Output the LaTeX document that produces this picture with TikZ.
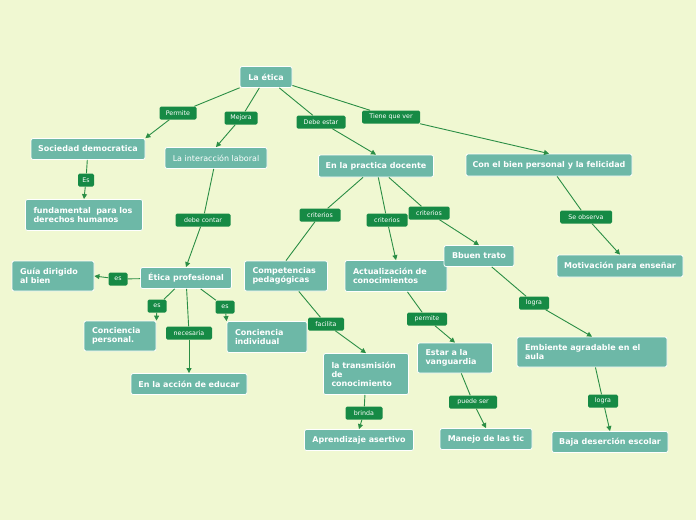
\documentclass[tikz,border=0pt]{standalone}
\usepackage{fontspec}
\setmainfont{DejaVu Sans}
\usetikzlibrary{arrows.meta}
\definecolor{bg}{HTML}{F0F8D2}
\definecolor{nodefill}{HTML}{6DB8A7}
\definecolor{lab}{HTML}{168A45}
\definecolor{ln}{HTML}{2B8E45}
\begin{document}
\begin{tikzpicture}[x=1pt,y=-1pt,
 box/.style={draw=white,line width=0.8pt,fill=nodefill,rounded corners=2pt,text=white,font=\fontsize{8}{9}\selectfont\bfseries,inner sep=0pt},
 mbox/.style={box,align=left},
 lbl/.style={fill=lab,rounded corners=1.5pt,text=white,font=\fontsize{6.3}{7}\selectfont,inner sep=0pt,minimum height=13},
 con/.style={draw=ln,line width=0.9pt},
 arr/.style={con,-{Triangle[length=5pt,width=5pt]}}]
\fill[bg] (0,0) rectangle (696,520);
\useasboundingbox (0,0) rectangle (696,520);
% main nodes
\node[box,minimum width=52,minimum height=21] (etica) at (266,77) {La ética};
\node[box,minimum width=114,minimum height=21] (soc) at (88,149) {Sociedad democratica};
\node[box,minimum width=102,minimum height=21,font=\fontsize{8}{9}\selectfont] (inter) at (216,158) {La interacción laboral};
\node[box,minimum width=115,minimum height=22] (prac) at (376,166) {En la practica docente};
\node[box,minimum width=166,minimum height=22] (bien) at (549,165) {Con el bien personal y la felicidad};
\node[mbox,minimum width=117,minimum height=31,text width=101] (fund) at (84,215) {fundamental\ \ para los\\derechos humanos};
\node[mbox,minimum width=82,minimum height=30,text width=66] (guia) at (53,276) {Guía dirigido\\al bien};
\node[box,minimum width=91,minimum height=21] (prof) at (186,278) {Ética profesional};
\node[mbox,minimum width=83,minimum height=30,text width=67] (comp) at (286,276) {Competencias\\pedagógicas};
\node[mbox,minimum width=102,minimum height=31,text width=86] (act) at (396,276) {Actualización de\\conocimientos};
\node[box,minimum width=70,minimum height=21] (trato) at (479,256) {Bbuen trato};
\node[box,minimum width=126,minimum height=22] (motiv) at (620,266) {Motivación para enseñar};
\node[mbox,minimum width=72,minimum height=30,text width=56] (cper) at (120,336) {Conciencia\\personal.};
\node[mbox,minimum width=80,minimum height=31,text width=64] (cind) at (267,337) {Conciencia\\individual};
\node[box,minimum width=116,minimum height=21] (accion) at (189,384) {En la acción de educar};
\node[mbox,minimum width=85,minimum height=41,text width=69] (trans) at (366,374) {la transmisión\\de\\conocimiento};
\node[mbox,minimum width=75,minimum height=30,text width=59] (vang) at (455,358) {Estar a la\\vanguardia};
\node[mbox,minimum width=150,minimum height=30,text width=134] (amb) at (592,352) {Embiente agradable en el\\aula};
\node[box,minimum width=109,minimum height=21] (aprend) at (359,440) {Aprendizaje asertivo};
\node[box,minimum width=92,minimum height=21] (tic) at (486,439) {Manejo de las tic};
\node[box,minimum width=116,minimum height=21] (baja) at (610,442) {Baja deserción escolar};
% labels
\node[lbl,minimum width=37] (l1) at (178,113) {Permite};
\node[lbl,minimum width=33] (l2) at (241,118) {Mejora};
\node[lbl,minimum width=49] (l3) at (321,122) {Debe estar};
\node[lbl,minimum width=58] (l4) at (391,117) {Tiene que ver};
\node[lbl,minimum width=16] (l5) at (86,180) {Es};
\node[lbl,minimum width=55] (l6) at (203,220) {debe contar};
\node[lbl,minimum width=41] (l7) at (320,215) {criterios};
\node[lbl,minimum width=41] (l8) at (387,220) {criterios};
\node[lbl,minimum width=41] (l9) at (429,213) {criterios};
\node[lbl,minimum width=52] (l10) at (586,217) {Se observa};
\node[lbl,minimum width=19] (l11) at (118,279) {es};
\node[lbl,minimum width=19] (l12) at (157,306) {es};
\node[lbl,minimum width=46] (l13) at (189,333) {necesaria};
\node[lbl,minimum width=19] (l14) at (225,307) {es};
\node[lbl,minimum width=36] (l15) at (326,324) {facilita};
\node[lbl,minimum width=40] (l16) at (427,319) {permite};
\node[lbl,minimum width=30] (l17) at (534,303) {logra};
\node[lbl,minimum width=37] (l18) at (364,413) {brinda};
\node[lbl,minimum width=48] (l19) at (473,402) {puede ser};
\node[lbl,minimum width=30] (l20) at (603,401) {logra};
% connectors
\draw[con] (etica) -- (l1); \draw[arr] (l1) -- (soc.north east) ;
\draw[con] (etica) -- (l2); \draw[arr] (l2) -- (inter.north);
\draw[con] (etica) -- (l3); \draw[arr] (l3) -- (prac.north);
\draw[con] (etica) -- (l4); \draw[arr] (l4) -- (bien.north);
\draw[con] (soc) -- (l5); \draw[arr] (l5) -- (fund.north);
\draw[con] (inter) -- (l6); \draw[arr] (l6) -- (prof.north);
\draw[con] (prac) -- (l7); \draw[con] (l7) -- (comp.north);
\draw[con] (prac) -- (l8); \draw[arr] (l8) -- (act.north);
\draw[con] (prac) -- (l9); \draw[arr] (l9) -- (trato.north);
\draw[con] (bien) -- (l10); \draw[arr] (l10) -- (motiv.north);
\draw[con] (prof) -- (l11); \draw[arr] (l11) -- (guia.east);
\draw[con] (prof) -- (l12); \draw[arr] (l12) -- (cper.north east);
\draw[con] (prof) -- (l13); \draw[arr] (l13) -- (accion.north);
\draw[con] (prof) -- (l14); \draw[arr] (l14) -- (cind.north west);
\draw[con] (comp) -- (l15); \draw[arr] (l15) -- (trans.north);
\draw[con] (act) -- (l16); \draw[arr] (l16) -- (vang.north);
\draw[con] (trato) -- (l17); \draw[arr] (l17) -- (amb.north);
\draw[con] (trans) -- (l18); \draw[arr] (l18) -- (aprend.north);
\draw[con] (vang) -- (l19); \draw[arr] (l19) -- (tic.north);
\draw[con] (amb) -- (l20); \draw[arr] (l20) -- (baja.north);
\end{tikzpicture}
\end{document}
